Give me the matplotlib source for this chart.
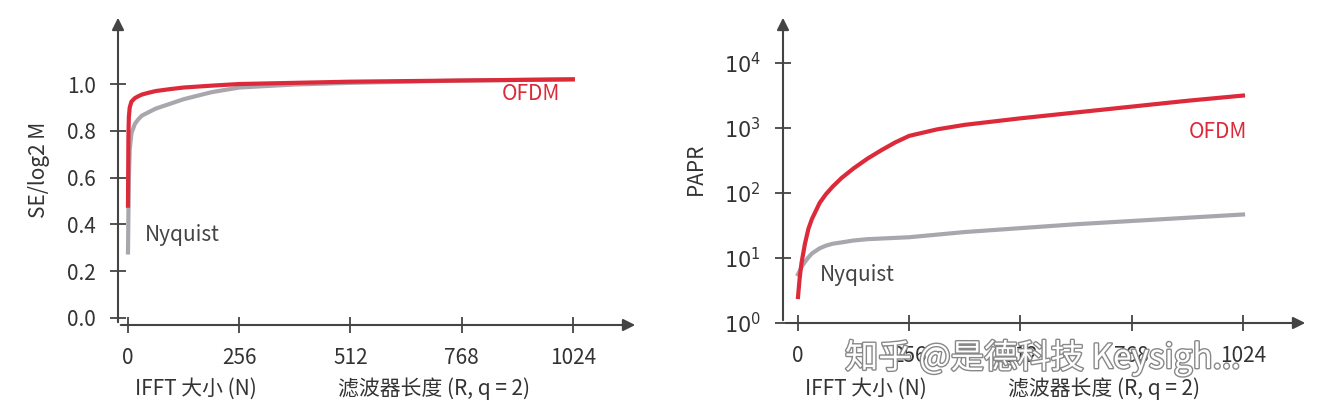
import matplotlib.pyplot as plt
import matplotlib.patheffects as pe

plt.rcParams['font.family'] = ['Noto Sans CJK SC', 'DejaVu Sans']

RED = '#dc2a3a'
GREY = '#a9a7ad'
TXT = '#333333'

# 左图：频谱效率
se_n = [0, 1, 2, 4, 8, 16, 24, 32, 48, 64, 96, 128, 192, 256, 384, 512, 768, 1024]
se_ofdm = [0.48, 0.78, 0.86, 0.90, 0.925, 0.94, 0.948, 0.955, 0.963, 0.97, 0.978, 0.985, 0.993, 1.0, 1.005, 1.01, 1.015, 1.02]
se_nyq = [0.28, 0.45, 0.6, 0.72, 0.79, 0.83, 0.85, 0.865, 0.88, 0.895, 0.915, 0.935, 0.965, 0.985, 0.998, 1.005, 1.015, 1.02]

# 右图：PAPR
papr_n = [0, 4, 8, 16, 24, 32, 50, 64, 80, 100, 128, 160, 192, 224, 256, 320, 384, 512, 640, 768, 896, 1024]
papr_ofdm = [10**0.4, 10**0.7, 10**0.92, 10**1.22, 10**1.45, 10**1.6, 10**1.85, 10**1.98, 10**2.1,
             10**2.23, 10**2.38, 10**2.53, 10**2.66, 10**2.78, 10**2.88, 10**2.98, 10**3.05, 10**3.15,
             10**3.24, 10**3.33, 10**3.42, 10**3.5]
papr_nyq = [10**0.75, 10**0.8, 10**0.86, 10**0.94, 10**1.01, 10**1.07, 10**1.15, 10**1.19, 10**1.22,
            10**1.24, 10**1.27, 10**1.29, 10**1.3, 10**1.31, 10**1.32, 10**1.36, 10**1.4, 10**1.46,
            10**1.52, 10**1.57, 10**1.62, 10**1.67]

xticks = [0, 256, 512, 768, 1024]

fig = plt.figure(figsize=(13.2, 4.2), dpi=100)
ax1 = fig.add_axes([118 / 1320, 95 / 420, 520 / 1320, 310 / 420])
ax2 = fig.add_axes([783 / 1320, 97 / 420, 525 / 1320, 308 / 420])

for ax in (ax1, ax2):
    for s in ax.spines.values():
        s.set_visible(False)
    ax.annotate('', xy=(1, 0), xytext=(0, 0), xycoords='axes fraction',
                arrowprops=dict(arrowstyle='-|>', color='#444444', lw=1.5, mutation_scale=18))
    ax.annotate('', xy=(0, 1), xytext=(0, 0), xycoords='axes fraction',
                arrowprops=dict(arrowstyle='-|>', color='#444444', lw=1.5, mutation_scale=18))
    ax.tick_params(direction='inout', length=12, width=1.3, color='#444444',
                   labelsize=15, labelcolor=TXT, pad=10)
    ax.set_xticks(xticks)
    ax.set_xticklabels([str(t) for t in xticks])
    ax.minorticks_off()

ax1.plot(se_n, se_nyq, color=GREY, lw=3)
ax1.plot(se_n, se_ofdm, color=RED, lw=3)
ax1.set_xlim(-23, 1174)
ax1.set_ylim(-0.03, 1.295)
ax1.set_yticks([0.0, 0.2, 0.4, 0.6, 0.8, 1.0])
ax1.set_yticklabels(['0.0', '0.2', '0.4', '0.6', '0.8', '1.0'])
ax1.set_ylabel('SE/log2 M', fontsize=15, color=TXT, labelpad=12)
ax1.text(860, 0.93, 'OFDM', color=RED, fontsize=15)
ax1.text(38, 0.33, 'Nyquist', color='#444444', fontsize=15)
fig.text(135 / 1320, 25 / 420, 'IFFT 大小 (N)', fontsize=15, color=TXT)
fig.text(338 / 1320, 25 / 420, '滤波器长度 (R, q = 2)', fontsize=15, color=TXT)

ax2.set_yscale('log')
ax2.plot(papr_n, papr_nyq, color=GREY, lw=3)
ax2.plot(papr_n, papr_ofdm, color=RED, lw=3)
ax2.set_xlim(-34.5, 1173.6)
ax2.set_ylim(1, 10**4.74)
ax2.set_yticks([1, 10, 100, 1000, 10000])
ax2.set_yticklabels([r'$10^{0}$', r'$10^{1}$', r'$10^{2}$', r'$10^{3}$', r'$10^{4}$'])
ax2.minorticks_off()
ax2.set_ylabel('PAPR', fontsize=15, color=TXT, labelpad=12)
ax2.text(900, 10**2.85, 'OFDM', color=RED, fontsize=15)
ax2.text(50, 10**0.65, 'Nyquist', color='#444444', fontsize=15)
fig.text(805 / 1320, 25 / 420, 'IFFT 大小 (N)', fontsize=15, color=TXT)
fig.text(1008 / 1320, 25 / 420, '滤波器长度 (R, q = 2)', fontsize=15, color=TXT)

fig.text(845 / 1320, 52 / 420, '知乎 @是德科技 Keysigh...', fontsize=24, color='white',
         path_effects=[pe.withStroke(linewidth=2, foreground='#888888')])

fig.savefig('out.png', dpi=100)
